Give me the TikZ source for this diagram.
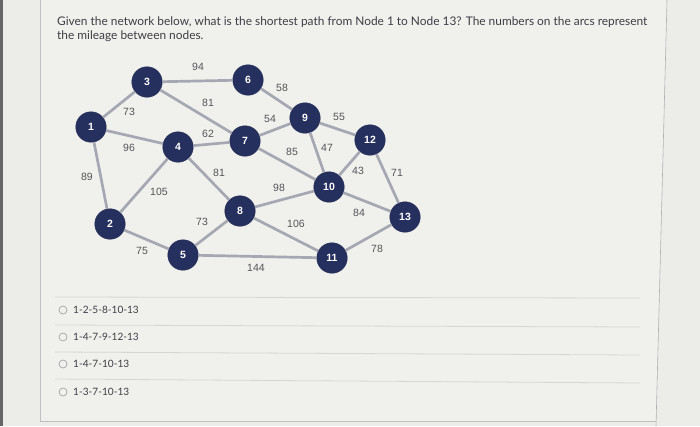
\documentclass[tikz,border=0pt]{standalone}
\usepackage{fontspec}
\setmainfont{Lato}
\newfontfamily\arialf{Liberation Sans}
\definecolor{bgc}{RGB}{236,236,233}
\definecolor{panelc}{RGB}{240,240,237}
\definecolor{navy}{RGB}{38,48,95}
\definecolor{edgec}{RGB}{165,168,178}
\definecolor{labc}{RGB}{85,85,88}
\definecolor{txtc}{RGB}{62,62,68}
\definecolor{sepc}{RGB}{214,214,210}
\tikzset{
  vtx/.style={circle,fill=navy,draw=navy!80!black,line width=0.4pt,minimum size=30.5pt,inner sep=0pt,text=white,font=\arialf\bfseries\fontsize{10.5}{11}\selectfont},
  arc/.style={draw=edgec,line width=2.7pt},
  wt/.style={text=labc,font=\arialf\fontsize{10.5}{11}\selectfont,inner sep=0pt},
  qtext/.style={text=txtc,font=\fontsize{11.9}{13}\selectfont,anchor=west,inner sep=0pt},
  opt/.style={text=txtc,font=\fontsize{10.1}{11}\selectfont,anchor=west,inner sep=0pt},
  radio/.style={circle,draw=gray!80,line width=0.6pt,minimum size=8pt,inner sep=0pt},
  sep/.style={draw=sepc,line width=0.8pt}
}
\begin{document}
\begin{tikzpicture}[x=1pt,y=-1pt]
\useasboundingbox (0,0) rectangle (700,426);
\fill[bgc] (0,0) rectangle (700,426);
\fill[panelc] (40,0) -- (667,0) -- (656,421) -- (40,421) -- cycle;
\fill[black!60] (0,0) rectangle (3,426);
\draw[draw=black!25,line width=0.6pt] (40,0) -- (40,421) -- (656,421);
\draw[draw=black!30,line width=0.6pt] (667,0) -- (656,426);

% question
\node[qtext] (q1) at (57,22) {Given the network below, what is the shortest path from Node 1 to Node 13? The numbers on the arcs represent};
\node[qtext] (q2) at (57,36) {the mileage between nodes.};

% nodes
\node[vtx] (n1) at (91,127) {1};
\node[vtx] (n2) at (110,224) {2};
\node[vtx] (n3) at (147,82) {3};
\node[vtx] (n4) at (178,147) {4};
\node[vtx] (n5) at (183,255) {5};
\node[vtx] (n6) at (248,80) {6};
\node[vtx] (n7) at (245,141) {7};
\node[vtx] (n8) at (240,211) {8};
\node[vtx] (n9) at (305,118) {9};
\node[vtx] (n10) at (329,187) {10};
\node[vtx] (n11) at (332,258) {11};
\node[vtx] (n12) at (370,140) {12};
\node[vtx] (n13) at (405,217) {13};

% arcs
\foreach \a/\b in {n1/n3,n1/n4,n1/n2,n3/n6,n3/n7,n4/n7,n4/n2,n4/n8,n2/n5,n5/n8,n5/n11,n6/n9,n7/n9,n7/n10,n9/n10,n9/n12,n8/n10,n8/n11,n12/n10,n12/n13,n10/n13,n11/n13}
  \draw[arc] (\a) -- (\b);

% weights
\node[wt] (w13) at (129,112) {73};
\node[wt] (w36) at (198,67) {94};
\node[wt] (w37) at (208,103) {81};
\node[wt] (w47) at (208,134) {62};
\node[wt] (w14) at (129,148) {96};
\node[wt] (w12) at (87,177) {89};
\node[wt] (w48) at (219,173) {81};
\node[wt] (w24) at (159,192) {105};
\node[wt] (w58) at (202,222) {73};
\node[wt] (w25) at (142,251) {75};
\node[wt] (w511) at (256,268) {144};
\node[wt] (w69) at (282,88) {58};
\node[wt] (w79) at (270,119) {54};
\node[wt] (w912) at (339,117) {55};
\node[wt] (w710) at (292,152) {85};
\node[wt] (w910) at (327,148) {47};
\node[wt] (w1012) at (358,171) {43};
\node[wt] (w1213) at (397,173) {71};
\node[wt] (w810) at (279,188) {98};
\node[wt] (w1013) at (359,213) {84};
\node[wt] (w811) at (296,224) {106};
\node[wt] (w1113) at (377,249) {78};

% options
\draw[sep] (55,297) -- (640,298);
\draw[sep] (55,325) -- (640,327);
\draw[sep] (55,352) -- (640,355);
\draw[sep] (55,379) -- (640,383);
\node[radio] (r1) at (63,310) {};
\node[radio] (r2) at (63,337) {};
\node[radio] (r3) at (63,364) {};
\node[radio] (r4) at (63,392) {};
\node[opt] (o1) at (73,310) {1-2-5-8-10-13};
\node[opt] (o2) at (73,337) {1-4-7-9-12-13};
\node[opt] (o3) at (73,364) {1-4-7-10-13};
\node[opt] (o4) at (73,392) {1-3-7-10-13};
\end{tikzpicture}
\end{document}
